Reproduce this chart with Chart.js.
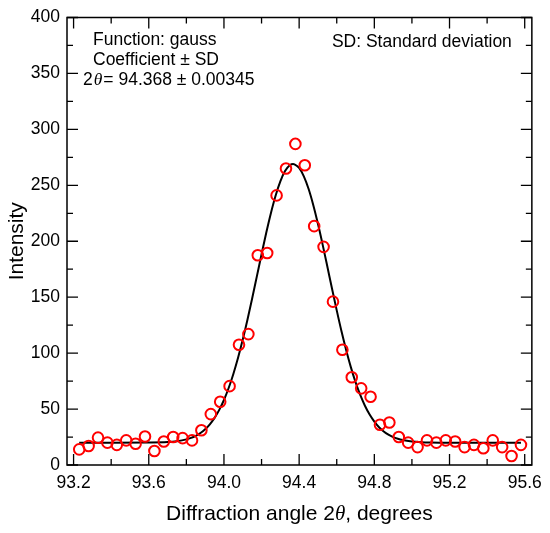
<!DOCTYPE html>
<html>
<head>
<meta charset="utf-8">
<title>Gauss fit</title>
<script src="https://cdn.jsdelivr.net/npm/chart.js@4/dist/chart.umd.min.js"></script>
<style>
  html, body { margin: 0; padding: 0; background: #fff; }
  #wrap { width: 550px; height: 533px; }
</style>
</head>
<body>
<div id="wrap"><canvas id="graph" width="550" height="533"></canvas></div>
<script>
// measured points (2theta, intensity)
const ANGLES = [
    93.23, 93.28, 93.33, 93.38, 93.43, 93.48, 93.53, 93.58, 93.63, 93.68,
    93.73, 93.78, 93.83, 93.88, 93.93, 93.98, 94.03, 94.08, 94.13, 94.18,
    94.23, 94.28, 94.33, 94.38, 94.43, 94.48, 94.53, 94.58, 94.63, 94.68,
    94.73, 94.78, 94.83, 94.88, 94.93, 94.98, 95.03, 95.08, 95.13, 95.18,
    95.23, 95.28, 95.33, 95.38, 95.43, 95.48, 95.53, 95.58
];
const INTENSITY = [
    14, 17, 24.5, 20, 18, 22, 19, 25.5, 12.5, 21,
    25, 24, 22, 31, 45.5, 56.5, 70.5, 107.5, 117, 187.5,
    189.5, 241, 265, 287, 268, 213.5, 195, 146, 103, 78.5,
    68.5, 61, 36, 38, 25, 20, 16, 22, 20, 22,
    21, 16, 18, 15, 22, 16, 8, 18
];

// fitted curve
const FIT_X = [
    93.23, 93.4, 93.6, 93.7, 93.75, 93.8, 93.825, 93.85, 93.875, 93.9,
    93.925, 93.95, 93.975, 94.0, 94.025, 94.05, 94.075, 94.1, 94.125, 94.15,
    94.175, 94.2, 94.225, 94.25, 94.275, 94.3, 94.325, 94.35, 94.368, 94.375,
    94.4, 94.425, 94.45, 94.475, 94.5, 94.525, 94.55, 94.575, 94.6, 94.625,
    94.65, 94.675, 94.7, 94.725, 94.75, 94.775, 94.8, 94.825, 94.85, 94.875,
    94.9, 94.925, 94.95, 95.0, 95.05, 95.1, 95.2, 95.4, 95.58
];
const FIT_Y = [
    20, 20, 20.1, 20.5, 21.3, 22.9, 24.2, 26.1, 28.6, 32,
    36.4, 42.1, 49.3, 58.1, 68.8, 81.4, 95.8, 112.1, 129.9, 148.9,
    168.6, 188.4, 207.6, 225.3, 240.9, 253.6, 262.7, 267.9, 269, 268.8,
    265.5, 258, 246.9, 232.5, 215.6, 197, 177.4, 157.5, 138.2, 119.7,
    102.8, 87.5, 74.1, 62.6, 53, 45.1, 38.8, 33.8, 30, 27.1,
    24.9, 23.4, 22.3, 21, 20.4, 20.15, 20, 20, 20
];

const X_TICKS = [93.2, 93.6, 94.0, 94.4, 94.8, 95.2, 95.6];
const X_MINOR = [93.4, 93.8, 94.2, 94.6, 95.0, 95.4];
const Y_TICKS = [0, 50, 100, 150, 200, 250, 300, 350, 400];
const Y_MINOR = [25, 75, 125, 175, 225, 275, 325, 375];

const FONT = '"Liberation Sans", Arial, Helvetica, sans-serif';

// box round the plot with inward tick marks on all four sides
const framePlugin = {
    id: 'frame',
    afterDatasetsDraw(chart) {
        const { ctx, chartArea: a, scales: { x, y } } = chart;
        ctx.save();
        ctx.strokeStyle = '#000';
        ctx.lineWidth = 1.5;
        ctx.strokeRect(a.left, a.top, a.right - a.left, a.bottom - a.top);
        ctx.lineWidth = 1.3;
        ctx.beginPath();
        const xMark = (v, len) => {
            const px = x.getPixelForValue(v);
            ctx.moveTo(px, a.bottom); ctx.lineTo(px, a.bottom - len);
            ctx.moveTo(px, a.top); ctx.lineTo(px, a.top + len);
        };
        const yMark = (v, len) => {
            const py = y.getPixelForValue(v);
            ctx.moveTo(a.left, py); ctx.lineTo(a.left + len, py);
            ctx.moveTo(a.right, py); ctx.lineTo(a.right - len, py);
        };
        X_TICKS.forEach(v => xMark(v, 11));
        X_MINOR.forEach(v => xMark(v, 6));
        Y_TICKS.forEach(v => yMark(v, 11));
        Y_MINOR.forEach(v => yMark(v, 6));
        ctx.stroke();
        ctx.restore();
    },
    afterDraw(chart) {
        const { ctx, chartArea: a } = chart;
        ctx.save();
        ctx.fillStyle = '#000';

        // x axis title with italic theta
        const big = '21px ' + FONT;
        const theta = 'italic 21px "Liberation Serif", "Times New Roman", serif';
        const parts = [['Diffraction angle 2', big], ['\u03B8', theta], [', degrees', big]];
        let total = 0;
        parts.forEach(p => { ctx.font = p[1]; total += ctx.measureText(p[0]).width; });
        let cx = (a.left + a.right) / 2 - total / 2;
        ctx.textBaseline = 'alphabetic';
        ctx.textAlign = 'left';
        parts.forEach(p => {
            ctx.font = p[1];
            ctx.fillText(p[0], cx, 520);
            cx += ctx.measureText(p[0]).width;
        });

        // y axis title
        ctx.save();
        ctx.translate(17, (a.top + a.bottom) / 2);
        ctx.rotate(-Math.PI / 2);
        ctx.textAlign = 'center';
        ctx.textBaseline = 'middle';
        ctx.font = big;
        ctx.fillText('Intensity', 0, 0);
        ctx.restore();

        // notes inside the plot
        const small = '17.5px ' + FONT;
        ctx.font = small;
        ctx.textAlign = 'left';
        ctx.fillText('Function: gauss', a.left + 26, 45);
        ctx.fillText('Coefficient \u00B1 SD', a.left + 26, 65);
        let tx = a.left + 16;
        ctx.fillText('2', tx, 85);
        tx += ctx.measureText('2').width + 1;
        ctx.font = 'italic 17.5px "Liberation Serif", "Times New Roman", serif';
        ctx.fillText('\u03B8', tx, 85);
        tx += ctx.measureText('\u03B8').width + 1;
        ctx.font = small;
        ctx.fillText('= 94.368 \u00B1 0.00345', tx, 85);

        ctx.textAlign = 'right';
        ctx.fillText('SD: Standard deviation', a.right - 20, 47);
        ctx.restore();
    }
};

function toPoints(xs, ys) {
    return xs.map((v, i) => ({ x: v, y: ys[i] }));
}

document.addEventListener('DOMContentLoaded', () => {
    const ctx = document.getElementById('graph').getContext('2d');
    new Chart(ctx, {
        type: 'scatter',
        data: {
            datasets: [
                {
                    label: 'gauss fit',
                    data: toPoints(FIT_X, FIT_Y),
                    showLine: true,
                    borderColor: '#000',
                    borderWidth: 2,
                    pointRadius: 0,
                    cubicInterpolationMode: 'monotone',
                    fill: false,
                    order: 2
                },
                {
                    label: 'measured',
                    data: toPoints(ANGLES, INTENSITY),
                    showLine: false,
                    pointStyle: 'circle',
                    pointRadius: 5.3,
                    borderWidth: 2,
                    borderColor: '#ff0000',
                    backgroundColor: 'rgba(0,0,0,0)',
                    order: 1
                }
            ]
        },
        options: {
            responsive: false,
            animation: false,
            layout: { padding: { top: 14, right: 17, left: 0, bottom: 0 } },
            plugins: {
                legend: { display: false },
                tooltip: { enabled: false }
            },
            scales: {
                x: {
                    type: 'linear',
                    min: 93.165,
                    max: 95.638,
                    grid: { display: false, drawTicks: false },
                    border: { display: false },
                    afterBuildTicks: s => { s.ticks = X_TICKS.map(v => ({ value: v })); },
                    afterFit: s => { s.height = 68; },
                    ticks: {
                        padding: 8,
                        color: '#000',
                        font: { family: FONT, size: 17.5 },
                        callback: v => v.toFixed(1)
                    }
                },
                y: {
                    type: 'linear',
                    min: 0,
                    max: 400,
                    grid: { display: false, drawTicks: false },
                    border: { display: false },
                    afterBuildTicks: s => { s.ticks = Y_TICKS.map(v => ({ value: v })); },
                    afterFit: s => { s.width = 67; },
                    ticks: {
                        padding: 7,
                        color: '#000',
                        font: { family: FONT, size: 17.5 }
                    }
                }
            }
        },
        plugins: [framePlugin]
    });
});
</script>
</body>
</html>
